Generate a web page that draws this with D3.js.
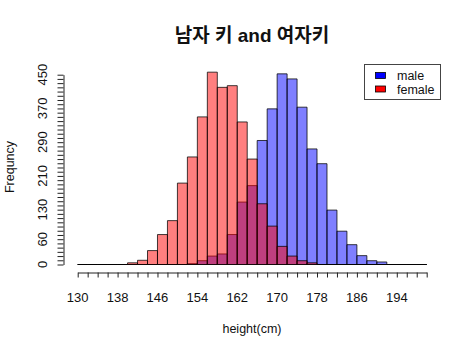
<!DOCTYPE html>
<html>
<head>
<meta charset="utf-8">
<script src="https://cdn.jsdelivr.net/npm/d3@7"></script>
<style>
  body { margin: 0; background: #fff; }
  text { font-family: "Liberation Sans", Arial, "Noto Sans CJK KR", sans-serif; fill: #111; }
</style>
</head>
<body>
<div id="chart"></div>
<script>
// bin start values (width 2 cm)
var binStarts = [130, 132, 134, 136, 138, 140, 142, 144, 146, 148, 150, 152, 154, 156, 158, 160, 162, 164,
  166, 168, 170, 172, 174, 176, 178, 180, 182, 184, 186, 188, 190, 192, 194, 196, 198];
var binWidth = 2;

var maleCounts = [0, 0, 0, 0, 0, 0, 0, 0, 0, 0, 0, 2, 9, 20, 25, 71, 148, 187,
  294, 369, 452, 440, 373, 274, 239, 129, 79, 47, 21, 9, 6, 0, 0, 0, 0];
var femaleCounts = [0, 0, 0, 0, 0, 4, 10, 33, 71, 104, 193, 255, 350, 456, 420, 424, 338, 250,
  144, 91, 43, 20, 9, 4, 0, 0, 0, 0, 0, 0, 0, 0, 0, 0, 0];

var xTicks = [130, 132, 134, 136, 138, 140, 142, 144, 146, 148, 150, 152, 154, 156, 158, 160, 162, 164,
  166, 168, 170, 172, 174, 176, 178, 180, 182, 184, 186, 188, 190, 192, 194, 196, 198, 200];
var xLabels = [130, 138, 146, 154, 162, 170, 178, 186, 194];

var yTicks = [0, 10, 20, 30, 40, 50, 60, 70, 80, 90, 100, 110, 120, 130, 140, 150, 160, 170, 180, 190,
  200, 210, 220, 230, 240, 250, 260, 270, 280, 290, 300, 310, 320, 330, 340, 350, 360, 370, 380, 390,
  400, 410, 420, 430, 440, 450];
var yLabels = [0, 60, 130, 210, 290, 370, 450];

var seriesNames = ["male", "female"];
var legendColors = ["#0000ff", "#ff0000"];

var width = 474, height = 353;

var svg = d3.select("#chart")
  .append("svg")
  .attr("width", width)
  .attr("height", height);

var x = d3.scaleLinear().domain([130, 200]).range([77.7, 426.7]);
var y = d3.scaleLinear().domain([0, 450]).range([264.5, 74.7]);

function barPath(start, count) {
  var x0 = x(start), x1 = x(start + binWidth), y0 = y(0), y1 = y(count);
  return "M" + x0 + "," + y0 + "H" + x1 + "V" + y1 + "H" + x0 + "Z";
}

// male first, female added on top
var series = [
  { counts: maleCounts, fill: "rgba(0,0,255,0.5)" },
  { counts: femaleCounts, fill: "rgba(255,0,0,0.5)" }
];

series.forEach(function (s) {
  svg.append("g")
    .selectAll("path")
    .data(binStarts)
    .enter()
    .append("path")
    .attr("d", function (d, i) { return barPath(d, s.counts[i]); })
    .style("fill", s.fill)
    .style("stroke", "#000")
    .style("stroke-opacity", 0.75)
    .style("stroke-width", 1);
});

// X axis
var xAxis = svg.append("g")
  .attr("transform", "translate(0,272.5)")
  .call(d3.axisBottom(x).tickValues(xTicks).tickSize(5).tickSizeOuter(0).tickFormat(""));
xAxis.select(".domain").style("stroke", "#222");
xAxis.selectAll(".tick line").style("stroke", "#222");

svg.append("g")
  .selectAll("text")
  .data(xLabels)
  .enter()
  .append("text")
  .attr("x", function (d) { return x(d); })
  .attr("y", 302)
  .style("font-size", "13px")
  .style("text-anchor", "middle")
  .text(function (d) { return d; });

// Y axis
var yAxis = svg.append("g")
  .attr("transform", "translate(63.5,0)")
  .call(d3.axisLeft(y).tickValues(yTicks).tickSize(6).tickSizeOuter(0).tickFormat(""));
yAxis.select(".domain").style("stroke", "#222");
yAxis.selectAll(".tick line").style("stroke", "#222");

svg.append("g")
  .selectAll("text")
  .data(yLabels)
  .enter()
  .append("text")
  .attr("transform", function (d) { return "translate(46.5," + y(d) + ") rotate(-90)"; })
  .style("font-size", "13px")
  .style("text-anchor", "middle")
  .text(function (d) { return d; });

// Titles
svg.append("text")
  .attr("x", 252)
  .attr("y", 42)
  .style("font-size", "19px")
  .style("font-weight", "bold")
  .style("text-anchor", "middle")
  .text("남자 키 and 여자키");

svg.append("text")
  .attr("x", 252)
  .attr("y", 333)
  .style("font-size", "12.5px")
  .style("text-anchor", "middle")
  .text("height(cm)");

svg.append("text")
  .attr("transform", "translate(14,167) rotate(-90)")
  .style("font-size", "12.5px")
  .style("text-anchor", "middle")
  .text("Frequncy");

// Legend
var legend = svg.append("g");
legend.append("rect")
  .attr("x", 364.5)
  .attr("y", 64.5)
  .attr("width", 76)
  .attr("height", 35)
  .style("fill", "#fff")
  .style("stroke", "#444");

var legendItems = legend.selectAll(".legend-item")
  .data(seriesNames)
  .enter()
  .append("g")
  .attr("class", "legend-item")
  .attr("transform", function (d, i) { return "translate(375," + (72 + i * 13.5) + ")"; });

legendItems.append("rect")
  .attr("x", 0.5)
  .attr("y", 0.5)
  .attr("width", 10)
  .attr("height", 6)
  .style("fill", function (d, i) { return legendColors[i]; })
  .style("stroke", "#000")
  .style("stroke-width", 0.8);

legendItems.append("text")
  .attr("x", 22)
  .attr("y", 8)
  .style("font-size", "12.5px")
  .text(function (d) { return d; });
</script>
</body>
</html>
